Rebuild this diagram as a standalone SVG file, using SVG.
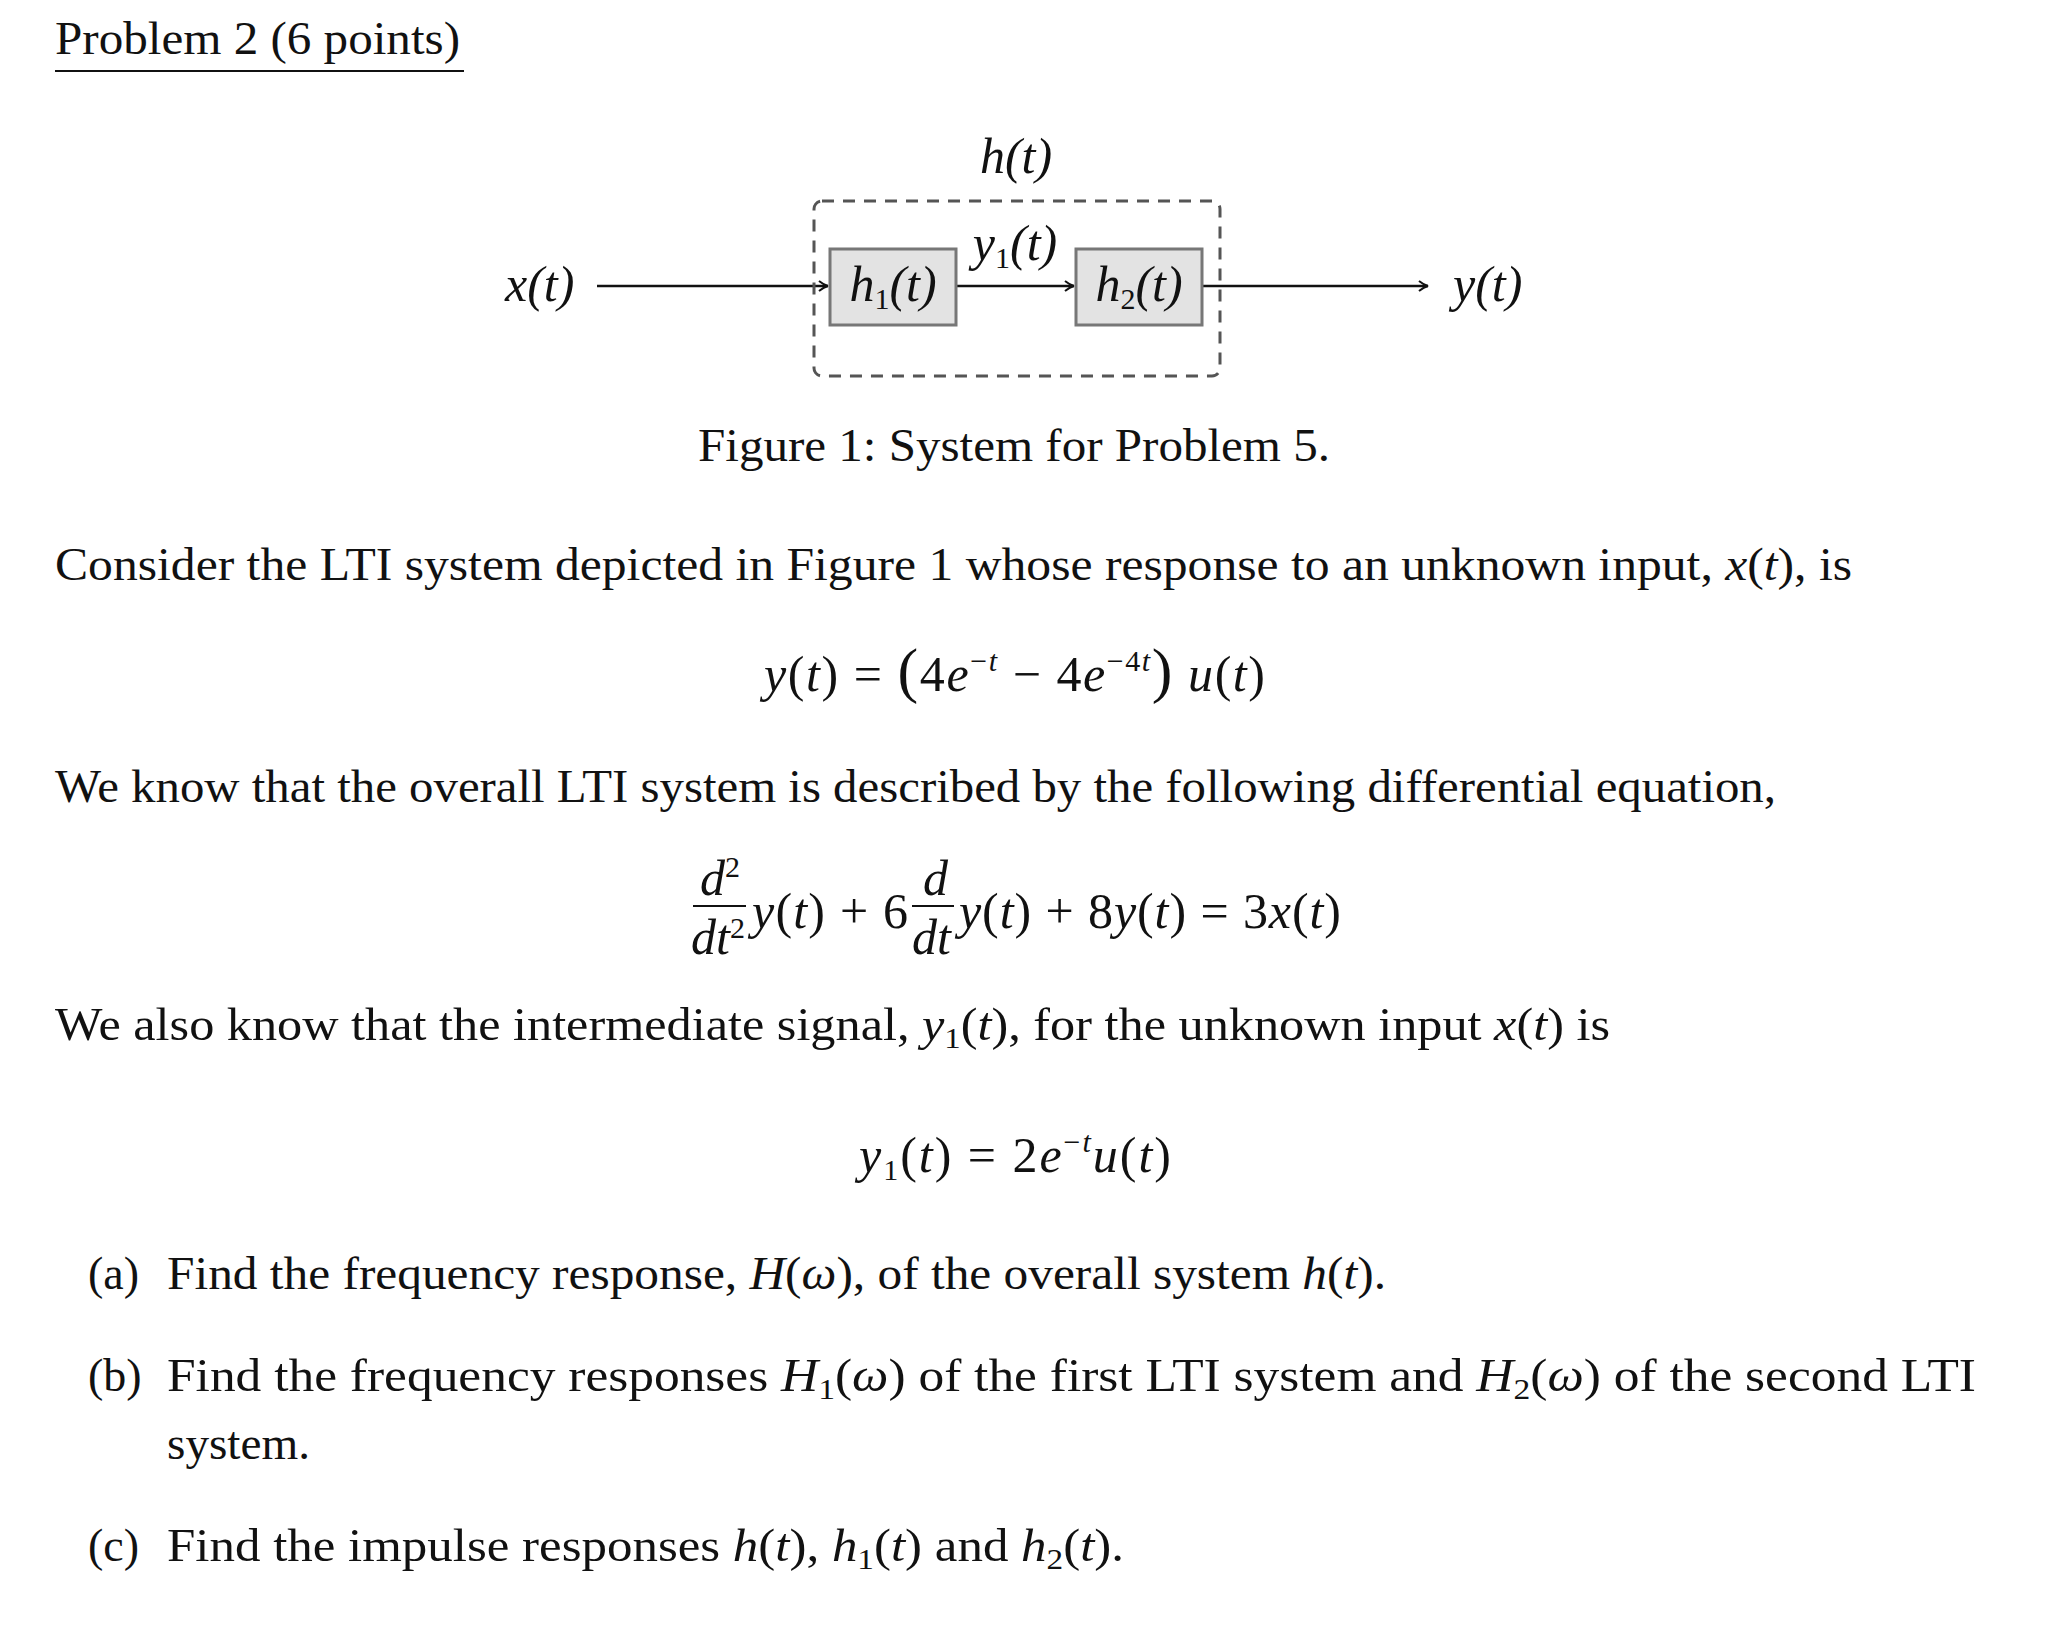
<svg xmlns="http://www.w3.org/2000/svg" width="2046" height="1639" viewBox="0 0 2046 1639">
<style>
text{font-family:"Liberation Serif","DejaVu Serif",serif;font-size:46px;fill:#111}
.i{font-style:italic}
.s{font-size:30px}
.m{font-size:50px}
.ln{stroke:#111;stroke-width:2.5;fill:none}
.box{fill:#e3e3e3;stroke:#777;stroke-width:3}
</style>
<defs>
<marker id="ah" markerWidth="12" markerHeight="12" refX="10" refY="6" orient="auto" markerUnits="userSpaceOnUse">
<path d="M1,1 Q6,5 10,6 Q6,7 1,11" fill="none" stroke="#111" stroke-width="2"/>
</marker>
</defs>
<rect width="2046" height="1639" fill="#fff"/>
<text x="55" y="54" textLength="405" lengthAdjust="spacingAndGlyphs">Problem 2 (6 points)</text>
<line x1="55" y1="71" x2="464" y2="71" stroke="#111" stroke-width="2"/>

<g id="connectors">
<line class="ln" x1="597" y1="286" x2="828" y2="286" marker-end="url(#ah)"/>
<line class="ln" x1="957" y1="286" x2="1074" y2="286" marker-end="url(#ah)"/>
<line class="ln" x1="1203" y1="286" x2="1428" y2="286" marker-end="url(#ah)"/>
</g>
<g id="system">
<rect x="814" y="201" width="406" height="175" rx="8" fill="none" stroke="#555" stroke-width="3" stroke-dasharray="12,9"/>
<text x="1016" y="173" text-anchor="middle" class="i m">h(t)</text>
</g>
<g id="h1"><rect class="box" x="830" y="249" width="126" height="76"/><text x="893" y="301" text-anchor="middle" class="m"><tspan class="i">h</tspan><tspan class="s" dy="8">1</tspan><tspan dy="-8" class="i">(t)</tspan></text></g>
<g id="h2"><rect class="box" x="1076" y="249" width="126" height="76"/><text x="1139" y="301" text-anchor="middle" class="m"><tspan class="i">h</tspan><tspan class="s" dy="8">2</tspan><tspan dy="-8" class="i">(t)</tspan></text></g>
<g id="x"><text x="505" y="301" class="i m">x(t)</text></g>
<g id="y"><text x="1453" y="301" class="i m">y(t)</text></g>
<g id="y1"><text x="1015" y="260" text-anchor="middle" class="m"><tspan class="i">y</tspan><tspan class="s" dy="8">1</tspan><tspan dy="-8" class="i">(t)</tspan></text></g>

<text x="698" y="461" textLength="632" lengthAdjust="spacingAndGlyphs">Figure 1: System for Problem 5.</text>
<text x="55" y="580" textLength="1797" lengthAdjust="spacingAndGlyphs">Consider the LTI system depicted in Figure 1 whose response to an unknown input, <tspan class="i">x</tspan>(<tspan class="i">t</tspan>), is</text>

<text x="764" y="691" class="m" textLength="501"><tspan class="i">y</tspan>(<tspan class="i">t</tspan>) = <tspan font-size="62">(</tspan>4<tspan class="i">e</tspan><tspan class="s" dy="-20">−<tspan class="i">t</tspan></tspan><tspan dy="20"> − 4</tspan><tspan class="i">e</tspan><tspan class="s" dy="-20">−4<tspan class="i">t</tspan></tspan><tspan dy="20" font-size="62">)</tspan> <tspan class="i">u</tspan>(<tspan class="i">t</tspan>)</text>

<text x="55" y="802" textLength="1721" lengthAdjust="spacingAndGlyphs">We know that the overall LTI system is described by the following differential equation,</text>

<text x="700" y="895" class="i m">d<tspan class="s" dy="-18" font-style="normal">2</tspan></text>
<line x1="693" y1="906" x2="746" y2="906" stroke="#111" stroke-width="2"/>
<text x="691" y="954" class="i m">dt<tspan class="s" dy="-16" font-style="normal">2</tspan></text>
<text x="752" y="928" class="m" textLength="156"><tspan class="i">y</tspan>(<tspan class="i">t</tspan>) + 6</text>
<text x="923" y="895" class="i m">d</text>
<line x1="912" y1="906" x2="954" y2="906" stroke="#111" stroke-width="2"/>
<text x="912" y="954" class="i m">dt</text>
<text x="959" y="928" class="m" textLength="382"><tspan class="i">y</tspan>(<tspan class="i">t</tspan>) + 8<tspan class="i">y</tspan>(<tspan class="i">t</tspan>) = 3<tspan class="i">x</tspan>(<tspan class="i">t</tspan>)</text>

<text x="55" y="1040" textLength="1555" lengthAdjust="spacingAndGlyphs">We also know that the intermediate signal, <tspan class="i">y</tspan><tspan class="s" dy="8">1</tspan><tspan dy="-8">(</tspan><tspan class="i">t</tspan>), for the unknown input <tspan class="i">x</tspan>(<tspan class="i">t</tspan>) is</text>

<text x="859" y="1172" class="m" textLength="312"><tspan class="i">y</tspan><tspan class="s" dy="8">1</tspan><tspan dy="-8">(</tspan><tspan class="i">t</tspan>) = 2<tspan class="i">e</tspan><tspan class="s" dy="-20">−<tspan class="i">t</tspan></tspan><tspan dy="20" class="i">u</tspan>(<tspan class="i">t</tspan>)</text>

<text x="88" y="1289">(a)</text>
<text x="167" y="1289" textLength="1219" lengthAdjust="spacingAndGlyphs">Find the frequency response, <tspan class="i">H</tspan>(<tspan class="i">ω</tspan>), of the overall system <tspan class="i">h</tspan>(<tspan class="i">t</tspan>).</text>
<text x="88" y="1391">(b)</text>
<text x="167" y="1391" textLength="1809" lengthAdjust="spacingAndGlyphs">Find the frequency responses <tspan class="i">H</tspan><tspan class="s" dy="8">1</tspan><tspan dy="-8">(</tspan><tspan class="i">ω</tspan>) of the first LTI system and <tspan class="i">H</tspan><tspan class="s" dy="8">2</tspan><tspan dy="-8">(</tspan><tspan class="i">ω</tspan>) of the second LTI</text>
<text x="167" y="1459" textLength="143" lengthAdjust="spacingAndGlyphs">system.</text>
<text x="88" y="1561">(c)</text>
<text x="167" y="1561" textLength="957" lengthAdjust="spacingAndGlyphs">Find the impulse responses <tspan class="i">h</tspan>(<tspan class="i">t</tspan>), <tspan class="i">h</tspan><tspan class="s" dy="8">1</tspan><tspan dy="-8">(</tspan><tspan class="i">t</tspan>) and <tspan class="i">h</tspan><tspan class="s" dy="8">2</tspan><tspan dy="-8">(</tspan><tspan class="i">t</tspan>).</text>
</svg>
